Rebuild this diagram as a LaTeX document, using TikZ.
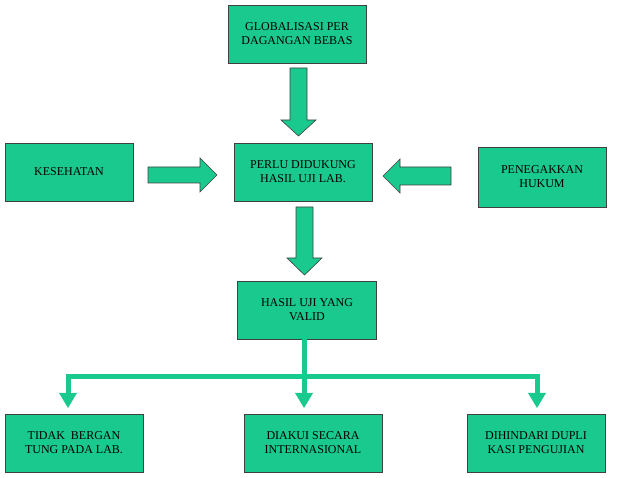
\documentclass[tikz,border=0pt]{standalone}
\usepackage{fontspec}
\setmainfont{Liberation Serif}
\begin{document}
\definecolor{tg}{HTML}{1AC98E}
\begin{tikzpicture}[x=1pt,y=-1pt,
  box/.style={draw=black!75,fill=tg,line width=0.6pt,minimum width=138pt,minimum height=58pt,align=center,font=\fontsize{12}{14}\selectfont,inner sep=0pt},
  barrow/.style={draw=black!75,fill=tg,line width=0.6pt},
  conn/.style={draw=tg,line width=5pt},
  tip/.style={fill=tg}]
\useasboundingbox (0,0) rectangle (638,478);
\node[box] (top) at (297,34) {GLOBALISASI PER\\DAGANGAN BEBAS};
\node[box] (mid) at (303,172) {PERLU DIDUKUNG\\HASIL UJI LAB.};
\node[box,minimum width=128pt] (kes) at (69,172) {KESEHATAN};
\node[box,minimum width=128pt,minimum height=60pt] (huk) at (542,177) {PENEGAKKAN\\HUKUM};
\node[box,minimum width=139pt] (val) at (307,310) {HASIL UJI YANG\\VALID};
\node[box] (b1) at (74,443) {TIDAK\ \ BERGAN\\TUNG PADA LAB.};
\node[box] (b2) at (313,443) {DIAKUI SECARA\\INTERNASIONAL};
\node[box] (b3) at (536,443) {DIHINDARI DUPLI\\KASI PENGUJIAN};
% block arrows
\draw[barrow] (290,68) -- (307,68) -- (307,120) -- (316,120) -- (298.5,136) -- (281,120) -- (290,120) -- cycle;
\draw[barrow] (296,207) -- (313,207) -- (313,258) -- (322,258) -- (304.5,275) -- (287,258) -- (296,258) -- cycle;
\draw[barrow] (451,167) -- (400,167) -- (400,159) -- (383,176) -- (400,193) -- (400,185) -- (451,185) -- cycle;
\draw[barrow] (148,167) -- (200,167) -- (200,158) -- (217,175) -- (200,192) -- (200,183) -- (148,183) -- cycle;
% connectors
\coordinate (j) at (304,377);
\draw[conn] (val.south -| j) -- (j);
\draw[conn] (68,377) -- (539,377);
\draw[conn] (68,374.5) -- (68,394);
\draw[conn] (304,377) -- (304,394);
\draw[conn] (537,374.5) -- (537,394);
\fill[tip] (59,393) -- (77,393) -- (68,408) -- cycle;
\fill[tip] (295,393) -- (313,393) -- (304,408) -- cycle;
\fill[tip] (528,393) -- (546,393) -- (537,408) -- cycle;
\end{tikzpicture}
\end{document}
